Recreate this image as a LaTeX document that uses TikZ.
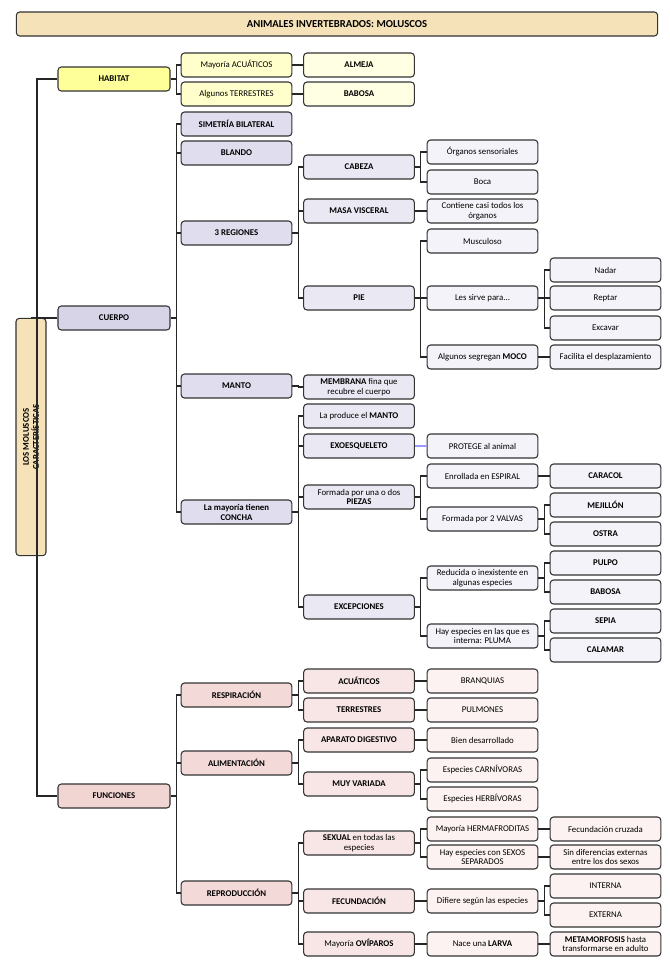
\documentclass[tikz,border=0pt]{standalone}
\usepackage{fontspec}
\setmainfont{Carlito}
\usetikzlibrary{positioning}
\definecolor{tan}{HTML}{F5E2B8}
\definecolor{yel1}{HTML}{FFFF99}
\definecolor{yel2}{HTML}{FFFFCC}
\definecolor{yel3}{HTML}{FFFFE3}
\definecolor{lav1}{HTML}{D8D4E8}
\definecolor{lav2}{HTML}{E0DDEE}
\definecolor{lav3}{HTML}{EAE8F3}
\definecolor{lav4}{HTML}{F4F3F9}
\definecolor{pk1}{HTML}{F1D5D3}
\definecolor{pk2}{HTML}{F3DAD8}
\definecolor{pk3}{HTML}{F7E6E5}
\definecolor{pk4}{HTML}{FCF2F1}
\tikzset{
  box/.style={rectangle, rounded corners=2.5pt, draw=black!80, line width=0.8pt,
    minimum width=83pt, minimum height=18pt, inner sep=1.5pt,
    align=center, font=\fontsize{6.6}{7.4}\selectfont},
  bb/.style={box, font=\fontsize{6.6}{7.4}\selectfont\bfseries},
  conn/.style={draw=black!85, line width=0.8pt}
}
\newcommand{\branch}[2]{\foreach \c in {#2} \draw[conn] (#1.east) -- ++(6,0) |- (\c.west);}
\begin{document}
\begin{tikzpicture}[x=0.75pt, y=-0.75pt]
\useasboundingbox (0,0) rectangle (669,967);

% titulo y raiz
\node[bb, fill=tan, minimum width=481pt, font=\fontsize{8}{9}\selectfont\bfseries] (tit) at (337,24) {ANIMALES INVERTEBRADOS: MOLUSCOS};
\node[bb, fill=tan, rotate=90, minimum width=178pt, minimum height=22.5pt] (raiz) at (31,437) {LOS MOLUSCOS\\CARACTERÍSTICAS};

% columna 1
\node[bb, fill=yel1, minimum width=84pt] (hab) at (114,79) {HABITAT};
\node[bb, fill=lav1, minimum width=84pt] (cue) at (114,318) {CUERPO};
\node[bb, fill=pk1, minimum width=84pt] (fun) at (114,796) {FUNCIONES};

% columna 2
\node[box, fill=yel2] (acu) at (236.5,65) {Mayoría ACUÁTICOS};
\node[box, fill=yel2] (ter) at (236.5,94) {Algunos TERRESTRES};
\node[bb, fill=lav2] (sim) at (236.5,124) {SIMETRÍA BILATERAL};
\node[bb, fill=lav2] (bla) at (236.5,153) {BLANDO};
\node[bb, fill=lav2] (reg) at (236.5,233) {3 REGIONES};
\node[bb, fill=lav2] (man) at (236.5,386) {MANTO};
\node[bb, fill=lav2] (con) at (236.5,512) {La mayoría tienen\\CONCHA};
\node[bb, fill=pk2] (res) at (236.5,695) {RESPIRACIÓN};
\node[bb, fill=pk2] (ali) at (236.5,763) {ALIMENTACIÓN};
\node[bb, fill=pk2] (rep) at (236.5,893) {REPRODUCCIÓN};

% columna 3
\node[bb, fill=yel3] (alm) at (359,65) {ALMEJA};
\node[bb, fill=yel3] (bab) at (359,94) {BABOSA};
\node[bb, fill=lav3] (cab) at (359,167) {CABEZA};
\node[bb, fill=lav3] (mas) at (359,211) {MASA VISCERAL};
\node[bb, fill=lav3] (pie) at (359,298) {PIE};
\node[box, fill=lav3] (mem) at (359,387) {\textbf{MEMBRANA} fina que\\recubre el cuerpo};
\node[box, fill=lav3] (pro) at (359,416) {La produce el \textbf{MANTO}};
\node[bb, fill=lav3] (exo) at (359,446) {EXOESQUELETO};
\node[box, fill=lav3] (pzs) at (359,497) {Formada por una o dos\\\textbf{PIEZAS}};
\node[bb, fill=lav3] (exc) at (359,607) {EXCEPCIONES};
\node[bb, fill=pk3] (acq) at (359,681) {ACUÁTICOS};
\node[bb, fill=pk3] (trr) at (359,710) {TERRESTRES};
\node[bb, fill=pk3] (apa) at (359,740) {APARATO DIGESTIVO};
\node[bb, fill=pk3] (muy) at (359,784) {MUY VARIADA};
\node[box, fill=pk3] (sex) at (359,843) {\textbf{SEXUAL} en todas las\\especies};
\node[bb, fill=pk3] (fec) at (359,901) {FECUNDACIÓN};
\node[box, fill=pk3] (ovi) at (359,944) {Mayoría \textbf{OVÍPAROS}};

% columna 4
\node[box, fill=lav4] (org) at (482.5,152) {Órganos sensoriales};
\node[box, fill=lav4] (boca) at (482.5,182) {Boca};
\node[box, fill=lav4] (cont) at (482.5,211) {Contiene casi todos los\\órganos};
\node[box, fill=lav4] (musc) at (482.5,241) {Musculoso};
\node[box, fill=lav4] (les) at (482.5,298) {Les sirve para...};
\node[box, fill=lav4] (moco) at (482.5,357) {Algunos segregan \textbf{MOCO}};
\node[box, fill=lav4] (prot) at (482.5,446) {PROTEGE al animal};
\node[box, fill=lav4] (enr) at (482.5,476) {Enrollada en ESPIRAL};
\node[box, fill=lav4] (valv) at (482.5,519) {Formada por 2 VALVAS};
\node[box, fill=lav4] (red) at (482.5,578) {Reducida o inexistente en\\algunas especies};
\node[box, fill=lav4] (plu) at (482.5,636) {Hay especies en las que es\\interna: PLUMA};
\node[box, fill=pk4] (bran) at (482.5,681) {BRANQUIAS};
\node[box, fill=pk4] (pulm) at (482.5,710) {PULMONES};
\node[box, fill=pk4] (bien) at (482.5,740) {Bien desarrollado};
\node[box, fill=pk4] (carn) at (482.5,770) {Especies CARNÍVORAS};
\node[box, fill=pk4] (herb) at (482.5,799) {Especies HERBÍVORAS};
\node[box, fill=pk4] (herm) at (482.5,829) {Mayoría HERMAFRODITAS};
\node[box, fill=pk4] (sxs) at (482.5,857) {Hay especies con SEXOS\\SEPARADOS};
\node[box, fill=pk4] (dif) at (482.5,901) {Difiere según las especies};
\node[box, fill=pk4] (lar) at (482.5,944) {Nace una \textbf{LARVA}};

% columna 5
\node[box, fill=lav4] (nad) at (605.5,270) {Nadar};
\node[box, fill=lav4] (rpt) at (605.5,298) {Reptar};
\node[box, fill=lav4] (exv) at (605.5,328) {Excavar};
\node[box, fill=lav4] (fac) at (605.5,357) {Facilita el desplazamiento};
\node[bb, fill=lav4] (car) at (605.5,476) {CARACOL};
\node[bb, fill=lav4] (mej) at (605.5,505) {MEJILLÓN};
\node[bb, fill=lav4] (ost) at (605.5,534) {OSTRA};
\node[bb, fill=lav4] (pul) at (605.5,563) {PULPO};
\node[bb, fill=lav4] (bab2) at (605.5,592) {BABOSA};
\node[bb, fill=lav4] (sep) at (605.5,621) {SEPIA};
\node[bb, fill=lav4] (cal) at (605.5,650) {CALAMAR};
\node[box, fill=pk4] (fcr) at (605.5,829) {Fecundación cruzada};
\node[box, fill=pk4] (sind) at (605.5,857) {Sin diferencias externas\\entre los dos sexos};
\node[box, fill=pk4] (int) at (605.5,886) {INTERNA};
\node[box, fill=pk4] (ext) at (605.5,915) {EXTERNA};
\node[box, fill=pk4] (meta) at (605.5,944) {\textbf{METAMORFOSIS} hasta\\transformarse en adulto};

% conectores
\branch{raiz}{hab,cue,fun}
\branch{hab}{acu,ter}
\branch{cue}{sim,bla,reg,man,con}
\branch{fun}{res,ali,rep}
\branch{acu}{alm}
\branch{ter}{bab}
\branch{reg}{cab,mas,pie}
\branch{man}{mem}
\branch{con}{pro,exo,pzs,exc}
\branch{res}{acq,trr}
\branch{ali}{apa,muy}
\branch{rep}{sex,fec,ovi}
\branch{cab}{org,boca}
\branch{mas}{cont}
\branch{pie}{musc,les,moco}
\draw[conn, draw=blue!40] (exo) -- (prot);
\branch{pzs}{enr,valv}
\branch{exc}{red,plu}
\branch{acq}{bran}
\branch{trr}{pulm}
\branch{apa}{bien}
\branch{muy}{carn,herb}
\branch{sex}{herm,sxs}
\branch{fec}{dif}
\branch{ovi}{lar}
\branch{les}{nad,rpt,exv}
\branch{moco}{fac}
\branch{enr}{car}
\branch{valv}{mej,ost}
\branch{red}{pul,bab2}
\branch{plu}{sep,cal}
\branch{herm}{fcr}
\branch{sxs}{sind}
\branch{dif}{int,ext}
\branch{lar}{meta}
\end{tikzpicture}
\end{document}
